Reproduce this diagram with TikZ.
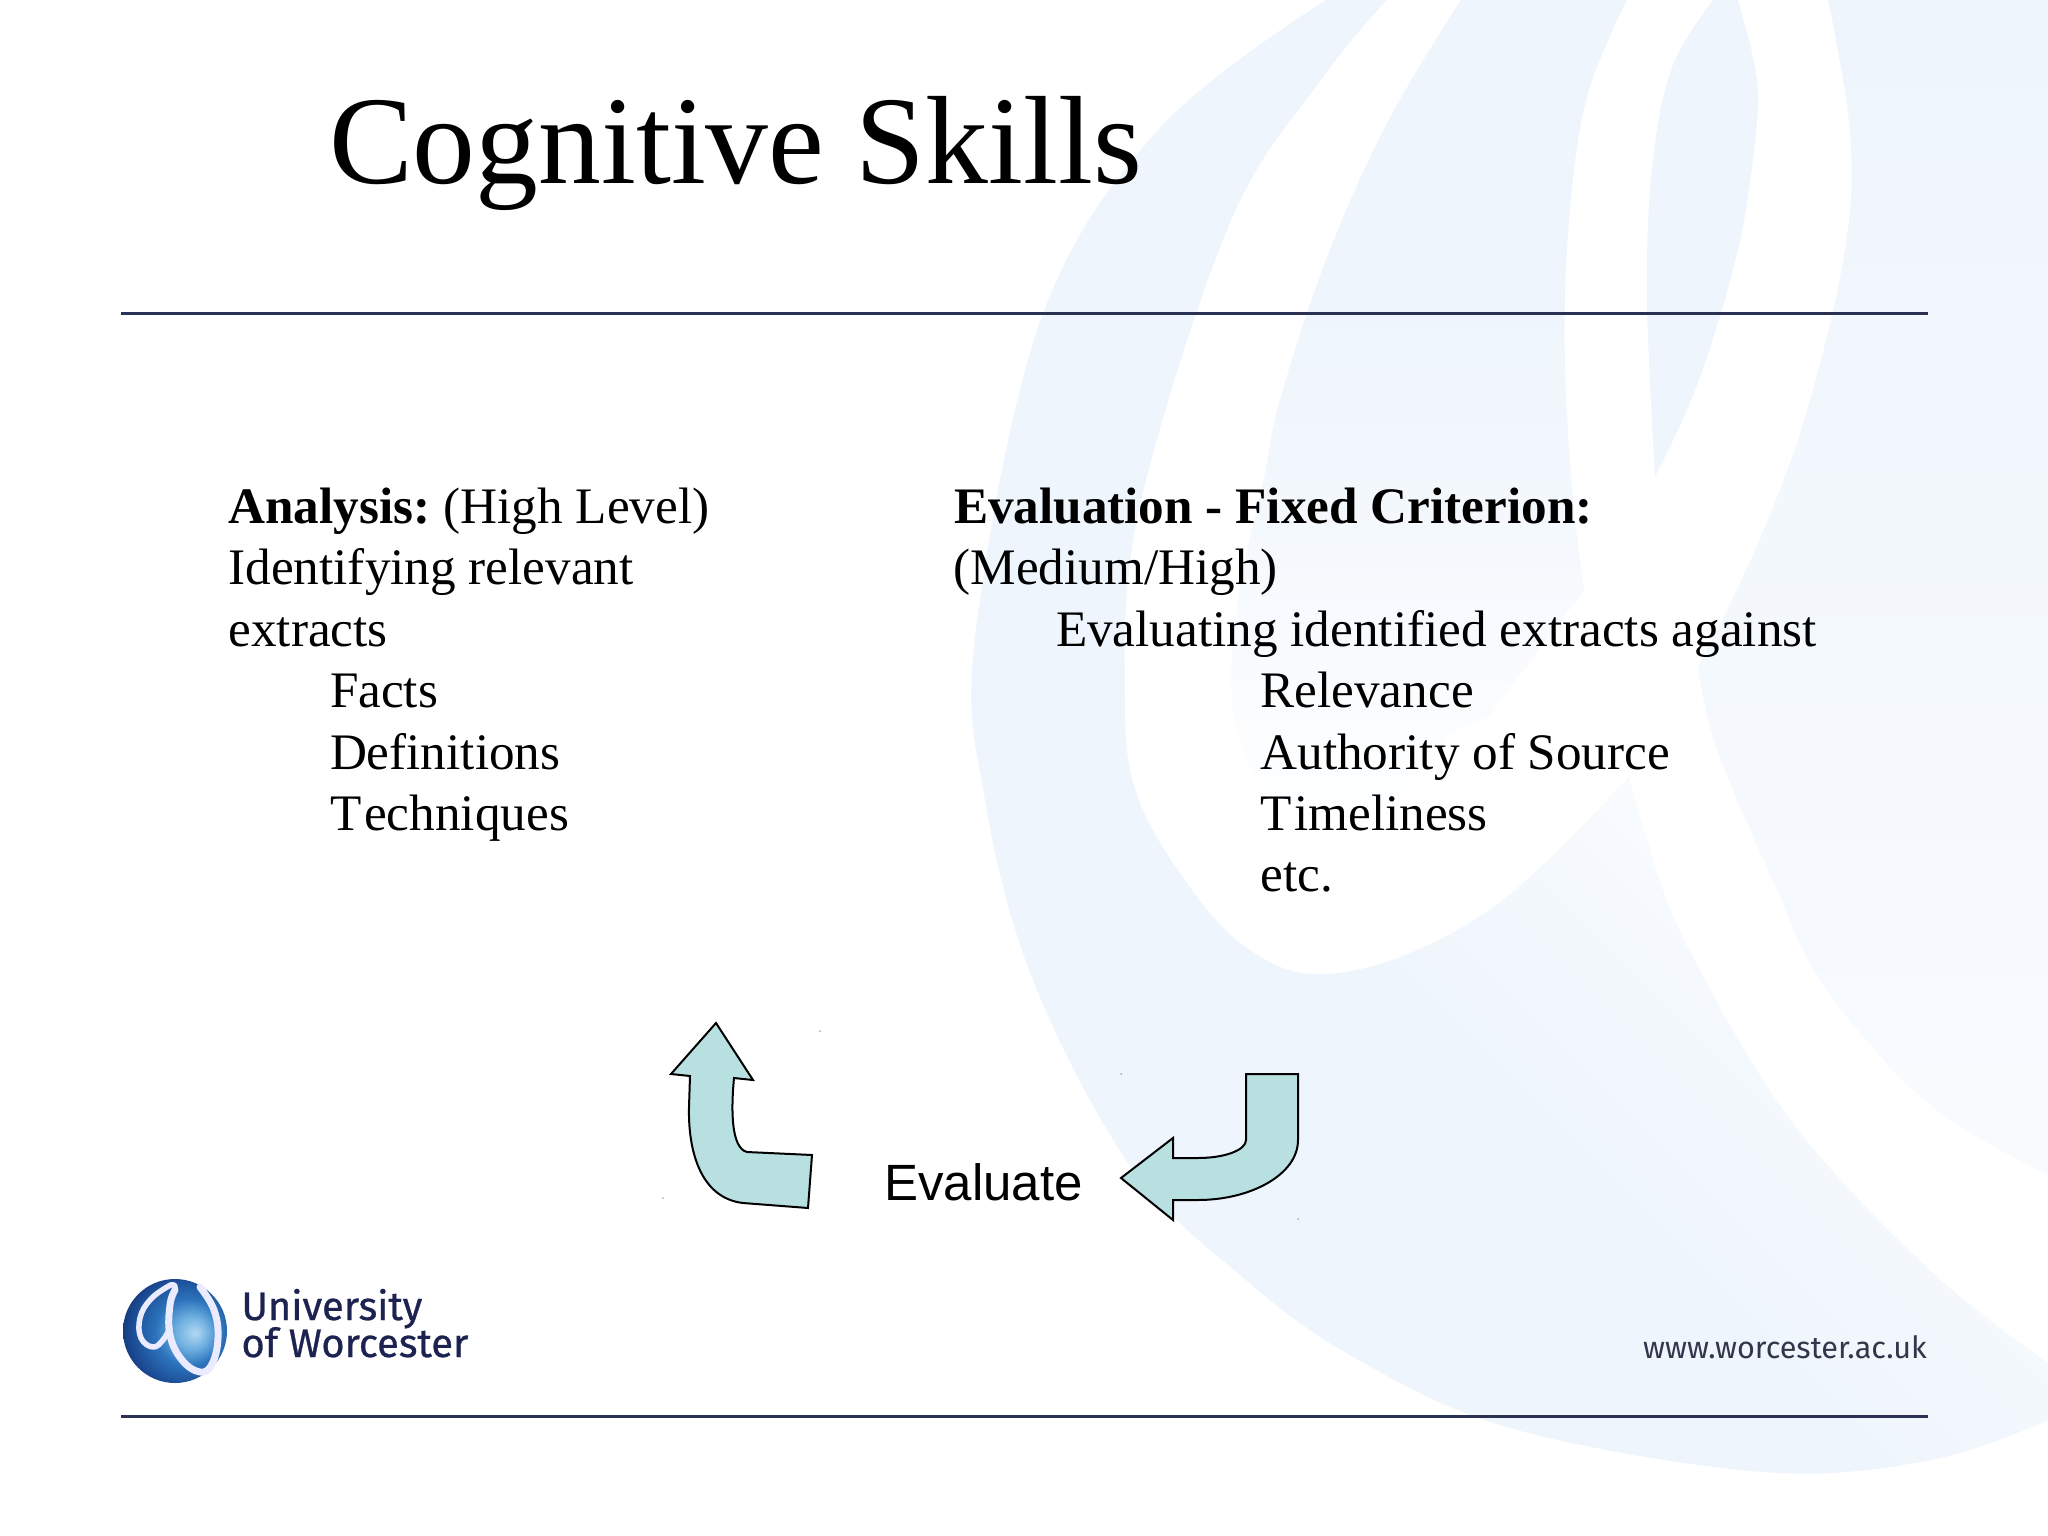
\documentclass[tikz,border=0pt]{standalone}
\usepackage{fontspec}
\setmainfont[Ligatures=NoCommon]{Liberation Serif}
\newfontfamily\sansf{Liberation Sans}
\newfontfamily\logof[FakeBold=0.7]{Fira Sans}
\newfontfamily\urlf{Fira Sans}
\definecolor{wash}{HTML}{EEF5FC}
\definecolor{washfaint}{HTML}{F8FBFE}
\definecolor{rulecol}{HTML}{2B3152}
\definecolor{arrowfill}{HTML}{B9E0E1}
\definecolor{logonavy}{HTML}{1D2350}
\definecolor{urlcol}{HTML}{33364A}
\definecolor{ballA}{HTML}{B3D8F3}
\definecolor{ballB}{HTML}{6DAEE0}
\definecolor{ballC}{HTML}{2C74BC}
\definecolor{ballD}{HTML}{1B4B94}
\definecolor{ballE}{HTML}{101C55}
\pgfdeclareverticalshading{interiorfade}{100bp}{color(0bp)=(white); color(25bp)=(white); color(50bp)=(wash!85!white); color(58bp)=(wash); color(100bp)=(wash)}
\pgfdeclareverticalshading{rightfade}{100bp}{color(0bp)=(washfaint); color(25bp)=(washfaint); color(48bp)=(washfaint!60!wash); color(75bp)=(wash); color(100bp)=(wash)}
\pgfdeclareradialshading{logoball}{\pgfpoint{10bp}{-1bp}}{color(0bp)=(ballA); color(8bp)=(ballB); color(16bp)=(ballC); color(26bp)=(ballD); color(36bp)=(ballE); color(50bp)=(ballE)}
\tikzset{
  x=1pt,y=-1pt,
  body/.style={anchor=base west,inner sep=0pt,outer sep=0pt,font=\fontsize{51.2}{61}\selectfont},
  slidetitle/.style={anchor=base west,inner sep=0pt,outer sep=0pt,font=\fontsize{125.6}{125}\selectfont},
  rulerline/.style={draw=rulecol,line width=3pt},
  bentarrow/.style={draw=black,fill=arrowfill,line width=2pt,line join=miter},
  logotext/.style={anchor=base west,inner sep=0pt,outer sep=0pt,text=logonavy,font=\logof\fontsize{39.9}{40}\selectfont},
  speck/.style={fill=black!55,inner sep=0pt,minimum size=1.5pt,circle},
  swirl/.style={draw=white!92!blue,line cap=round,line join=round}
}
\newcommand{\blobpath}{(1326,0) -- plot[smooth,tension=.6] coordinates {(1326,0) (1160,128) (1041,319) (975,638) (985,800) (1033,980) (1131,1167) (1240,1275) (1350,1355) (1510,1428) (1763,1472) (1930,1460) (2048,1420)} -- (2048,0) -- cycle}
\begin{document}
\begin{tikzpicture}
\useasboundingbox (0,0) rectangle (2048,1536);
\fill[white] (0,0) rectangle (2048,1536);
% background wash: outer blob
\fill[wash] \blobpath;
% the band lightens towards its upper right end
\begin{scope}
  \clip \blobpath;
  \begin{scope}[transform canvas={rotate around={45:(1700,1000)}}]
    \shade[left color=wash,right color=washfaint] (1488,611) rectangle (1806,1636);
  \end{scope}
\end{scope}
% right-hand fading area
\shade[shading=rightfade] (1828,0) -- (2048,0) -- (2048,1175) -- plot[smooth,tension=.6] coordinates {(2048,1175) (1930,1105) (1825,988) (1774,883) (1717,750) (1698,667)} -- plot[smooth,tension=.6] coordinates {(1698,667) (1755,550) (1805,417) (1845,250) (1850,133) (1828,0)} -- cycle;
% white ribbon, loop and crossing
\fill[white] (1387,0)
  -- plot[smooth,tension=.6] coordinates {(1387,0) (1321,80) (1230,223) (1139,510) (1125,700) (1139,800) (1195,894) (1250,950) (1314,974) (1405,955) (1510,894) (1629,777)}
  -- plot[smooth,tension=.6] coordinates {(1629,777) (1645,833) (1685,941) (1790,1119) (1930,1270) (2048,1363)}
  -- (2048,1175)
  -- plot[smooth,tension=.6] coordinates {(2048,1175) (1930,1105) (1825,988) (1774,883) (1717,750) (1698,667)}
  -- plot[smooth,tension=.6] coordinates {(1698,667) (1755,550) (1805,417) (1845,250) (1850,133) (1828,0)}
  -- (1738,0)
  -- plot[smooth,tension=.6] coordinates {(1738,0) (1756,73) (1756,133) (1738,250) (1698,383) (1655,477)}
  -- plot[smooth,tension=.6] coordinates {(1655,477) (1647,300) (1652,167) (1672,67) (1713,0)}
  -- (1627,0) -- cycle;
% interior of the loop, fading downward
\shade[shading=interiorfade] (1461,0) -- (1627,0)
  -- plot[smooth,tension=.6] coordinates {(1627,0) (1586,100) (1568,233) (1565,367) (1573,500) (1584,590)}
  -- (1488,717) -- (1450,733)
  -- plot[smooth,tension=.6] coordinates {(1450,733) (1380,810) (1290,830) (1235,720) (1238,600) (1263,483) (1280,400) (1326,260) (1387,123) (1461,0)} -- cycle;
% rules
\coordinate (ruleTopL) at (121,313);
\coordinate (ruleTopR) at (1928,313);
\coordinate (ruleBotL) at (121,1416);
\coordinate (ruleBotR) at (1928,1416);
\draw[rulerline] (ruleTopL) -- (ruleTopR);
\draw[rulerline] (ruleBotL) -- (ruleBotR);
% title
\node[slidetitle] (title) at (329,183) {Cognitive Skills};
% left column
\node[body] (a1) at (228.5,523) {\textbf{Analysis:}\hspace{-4pt} (High Level)};
\node[body] (a2) at (228.5,584) {Identifying relevant};
\node[body] (a3) at (228.5,646) {extracts};
\node[body] (a4) at (330,707.5) {Facts};
\node[body] (a5) at (330,769) {Definitions};
\node[body] (a6) at (330,830) {T\kern3pt echniques};
% right column
\node[body] (b1) at (954,523) {\textbf{Evaluation - Fixed Criterion:}};
\node[body] (b2) at (953.5,584) {(Medium/High)};
\node[body] (b3) at (1056,646) {Evaluating identified extracts against};
\node[body] (b4) at (1260.5,707.5) {Relevance};
\node[body] (b5) at (1260.5,769) {Authority of Source};
\node[body] (b6) at (1260.5,830) {T\kern2.5pt imeliness};
\node[body] (b7) at (1260.5,891) {etc.};
% arrows
\draw[bentarrow] (716,1023) -- (753,1080) -- (734,1078) .. controls (731,1110) and (731,1148) .. (747,1152) -- (812,1155) -- (808,1208) -- (743,1203) .. controls (700,1198) and (688,1150) .. (689,1107) -- (690,1076) -- (671,1074) -- cycle;
\draw[bentarrow] (1246,1074) -- (1298,1074) -- (1298,1140) .. controls (1298,1175) and (1250,1200) .. (1198,1200) -- (1173,1200) -- (1173,1220) -- (1121,1178) -- (1173,1138) -- (1173,1158) -- (1198,1158) .. controls (1225,1158) and (1246,1150) .. (1246,1140) -- cycle;
\node[speck] (s1) at (820,1031) {};
\node[speck] (s2) at (663,1198) {};
\node[speck] (s3) at (1121,1074) {};
\node[speck] (s4) at (1298,1219) {};
% label
\node[anchor=base west,inner sep=0pt,font=\sansf\fontsize{51}{51}\selectfont] (evaluate) at (884,1200) {Evaluate};
% logo
\shade[shading=logoball] (175,1331) circle [radius=52];
\draw[swirl,line width=7pt] plot[smooth,tension=.7] coordinates {(200,1287) (214,1310) (218,1338) (212,1364) (200,1372) (182,1360) (170,1335) (170,1305) (175,1290)};
\draw[swirl,line width=5.5pt] plot[smooth,tension=.7] coordinates {(175,1290) (174,1285) (167,1287) (150,1300) (140,1318) (141,1338) (153,1347) (163,1340) (170,1328)};
\node[logotext] (uni) at (241.5,1320) {University};
\node[logotext] (wor) at (241.5,1357) {of Worcester};
\node[anchor=base east,inner sep=0pt,text=urlcol,font=\urlf\fontsize{30.6}{30}\selectfont] (url) at (1927,1358) {www.worcester.ac.uk};
\end{tikzpicture}
\end{document}
